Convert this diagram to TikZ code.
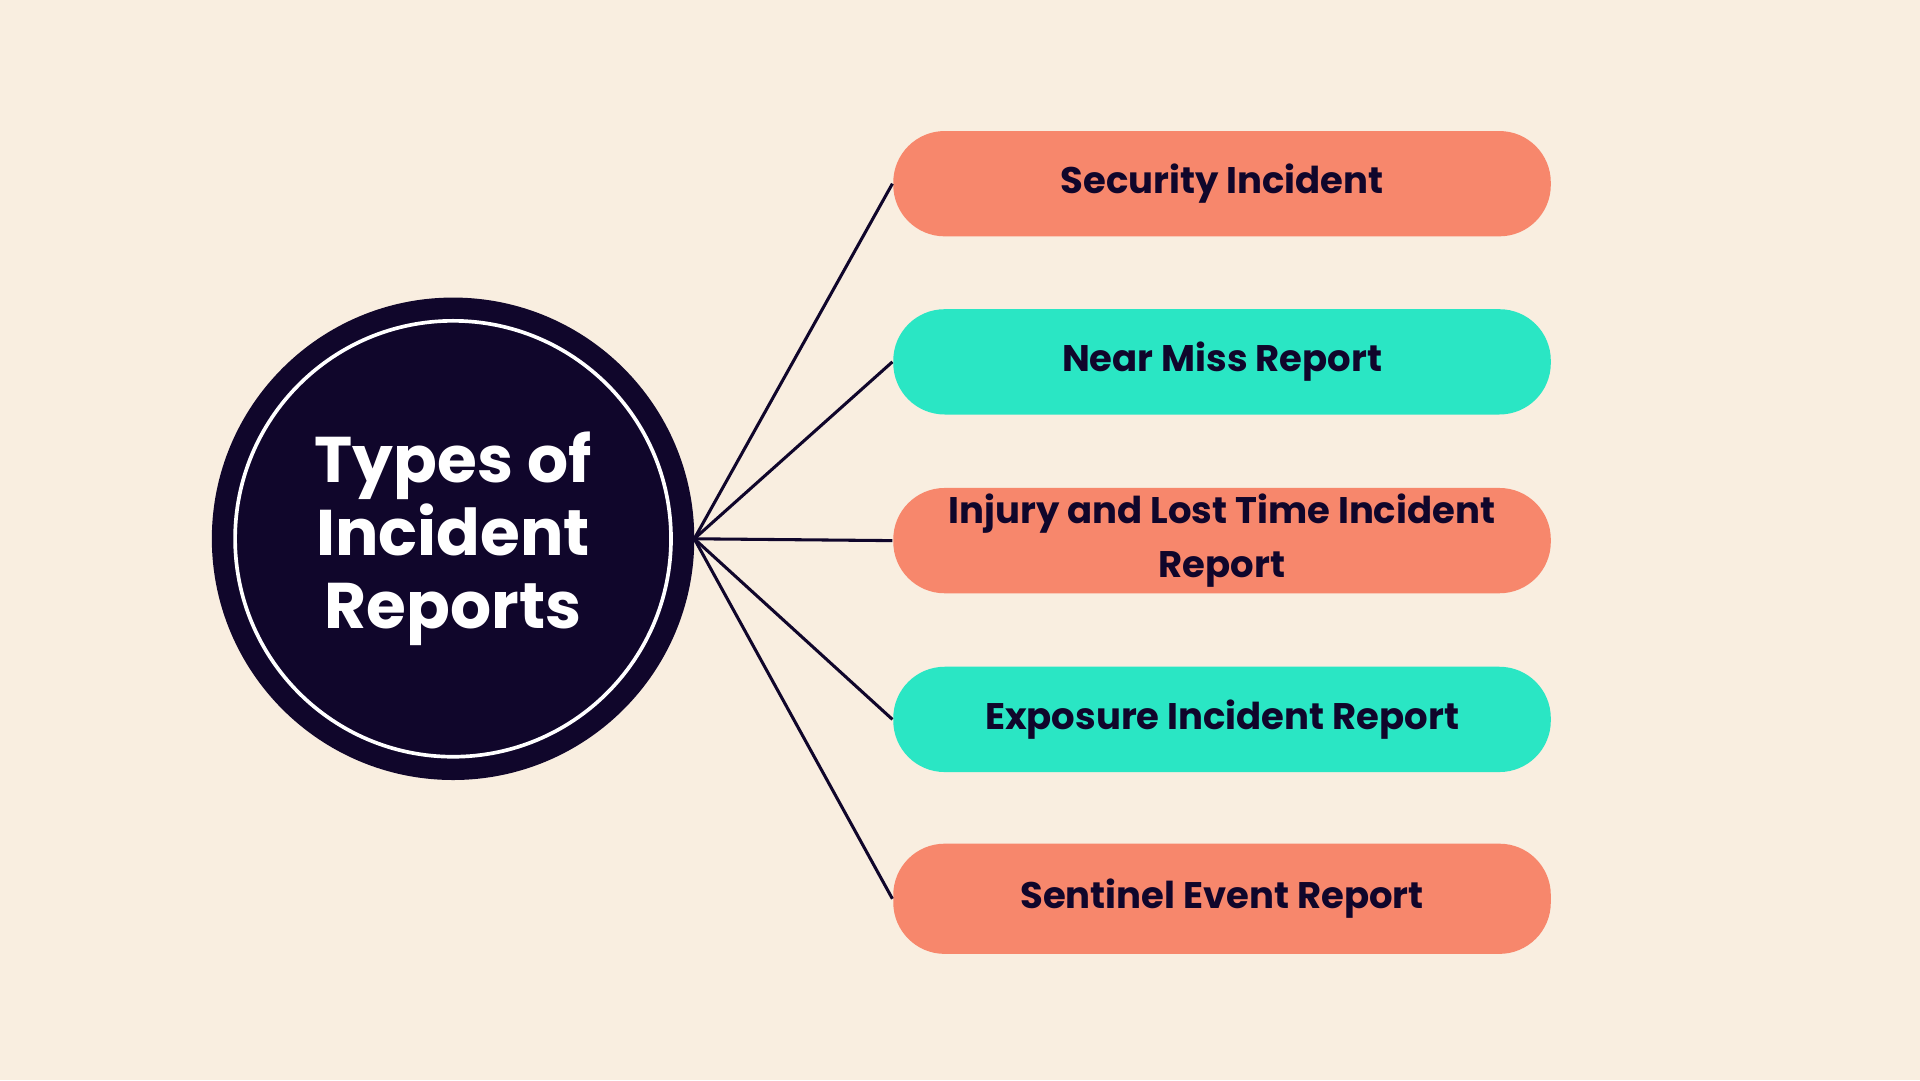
\documentclass[tikz,border=0pt]{standalone}
\usepackage{fontspec}
\setmainfont{Poppins}
\definecolor{bg}{HTML}{F9EEE0}
\definecolor{salmon}{HTML}{F7876C}
\definecolor{teal}{HTML}{2AE6C4}
\definecolor{navy}{HTML}{10062B}
\begin{document}
\begin{tikzpicture}[x=0.1mm,y=-0.1mm,
  item/.style={rounded corners=4.2mm,minimum width=53.7mm,minimum height=8.6mm,inner sep=0pt,align=center,text=navy,font=\fontsize{8.6pt}{12.6pt}\selectfont\bfseries},
  link/.style={draw=navy,line width=0.25mm}]
\fill[bg] (0,0) rectangle (1568,882);
\useasboundingbox (0,0) rectangle (1568,882);
\node[circle,fill=navy,minimum size=39.4mm,inner sep=0pt] (c) at (370,440) {};
\draw[white,line width=0.3mm] (c.center) circle (17.8mm);
\node[text=white,align=center,font=\fontsize{15pt}{17pt}\selectfont\bfseries] at (370,440) {Types of\\Incident\\Reports};
\node[item,fill=salmon] (a) at (998,150) {Security Incident};
\node[item,fill=teal] (b) at (998,295.5) {Near Miss Report};
\node[item,fill=salmon] (d) at (998,441.5) {Injury and Lost Time Incident\\Report};
\node[item,fill=teal] (e) at (998,587.5) {Exposure Incident Report};
\node[item,fill=salmon,minimum height=9mm] (f) at (998,734) {Sentinel Event Report};
\coordinate (o) at (567,440);
\foreach \n in {a,b,d,e,f} \draw[link] (o) -- (\n.west);
\end{tikzpicture}
\end{document}
